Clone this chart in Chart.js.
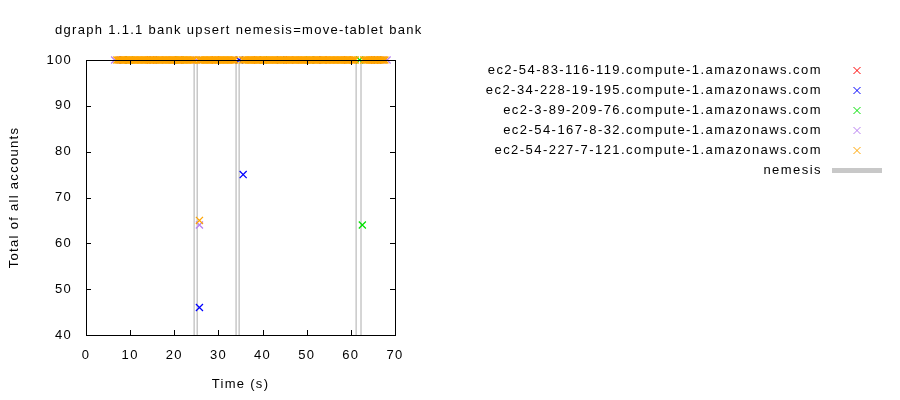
<!DOCTYPE html>
<html>
<head>
<meta charset="utf-8">
<script src="https://cdn.jsdelivr.net/npm/chart.js@4/dist/chart.umd.min.js"></script>
<style>
  html, body { margin: 0; padding: 0; background: #fff; }
  #wrap { width: 900px; height: 400px; }
</style>
</head>
<body>
<div id="wrap"><canvas id="bankChart" width="900" height="400"></canvas></div>
<script>
// chart text
const chartTitle = "dgraph 1.1.1 bank upsert nemesis=move-tablet bank";
const xTitle = "Time (s)";
const yTitle = "Total of all accounts";
const xTicks = [0, 10, 20, 30, 40, 50, 60, 70];
const yTicks = [40, 50, 60, 70, 80, 90, 100];

const nodeNames = [
    "ec2-54-83-116-119.compute-1.amazonaws.com",
    "ec2-34-228-19-195.compute-1.amazonaws.com",
    "ec2-3-89-209-76.compute-1.amazonaws.com",
    "ec2-54-167-8-32.compute-1.amazonaws.com",
    "ec2-54-227-7-121.compute-1.amazonaws.com"
];

// every correct read sees the full total
const fullTotal = 100;

// per node: times (s) of reads that saw the full total,
// then reads that saw something else
const redFullTimes = [8.2, 14.6, 21.0, 29.3, 38.8, 46.1, 53.7, 59.2, 65.4];
const redBadTimes = [];
const redBadTotals = [];

const blueFullTimes = [8.5, 15.2, 34.7, 44.1, 52.3, 66.0];
const blueBadTimes = [25.7, 35.6];
const blueBadTotals = [46, 75];

const greenFullTimes = [9.8, 21.3, 40.2, 50.7, 62.0];
const greenBadTimes = [62.6];
const greenBadTotals = [64];

const purpleFullTimes = [6.5, 18.1, 25.0, 47.5, 68.2];
const purpleBadTimes = [25.7];
const purpleBadTotals = [64];

const orangeFullTimes = [
    7.0, 7.3, 7.6, 7.9, 8.2, 8.5, 8.8, 9.1, 9.4, 9.7, 10.0, 10.3, 10.6, 10.9,
    11.2, 11.5, 11.8, 12.1, 12.4, 12.7, 13.0, 13.3, 13.6, 13.9, 14.2, 14.5, 14.8,
    15.1, 15.4, 15.7, 16.0, 16.3, 16.6, 16.9, 17.2, 17.5, 17.8, 18.1, 18.4, 18.7,
    19.0, 19.3, 19.6, 19.9, 20.2, 20.5, 20.8, 21.1, 21.4, 21.7, 22.0, 22.3, 22.6,
    22.9, 23.2, 23.5, 23.8, 24.1, 24.4,
    25.6, 25.9, 26.2, 26.5, 26.8, 27.1, 27.4, 27.7, 28.0, 28.3, 28.6, 28.9, 29.2,
    29.5, 29.8, 30.1, 30.4, 30.7, 31.0, 31.3, 31.6, 31.9, 32.2, 32.5, 32.8, 33.1,
    33.4, 33.7,
    35.5, 35.8, 36.1, 36.4, 36.7, 37.0, 37.3, 37.6, 37.9, 38.2, 38.5, 38.8, 39.1,
    39.4, 39.7, 40.0, 40.3, 40.6, 40.9, 41.2, 41.5, 41.8, 42.1, 42.4, 42.7, 43.0,
    43.3, 43.6, 43.9, 44.2, 44.5, 44.8, 45.1, 45.4, 45.7, 46.0, 46.3, 46.6, 46.9,
    47.2, 47.5, 47.8, 48.1, 48.4, 48.7, 49.0, 49.3, 49.6, 49.9, 50.2, 50.5, 50.8,
    51.1, 51.4, 51.7, 52.0, 52.3, 52.6, 52.9, 53.2, 53.5, 53.8, 54.1, 54.4, 54.7,
    55.0, 55.3, 55.6, 55.9, 56.2, 56.5, 56.8, 57.1, 57.4, 57.7, 58.0, 58.3, 58.6,
    58.9, 59.2, 59.5, 59.8, 60.1, 60.4, 60.7, 61.0,
    62.9, 63.2, 63.5, 63.8, 64.1, 64.4, 64.7, 65.0, 65.3, 65.6, 65.9, 66.2, 66.5,
    66.8, 67.1, 67.4, 67.7
];
const orangeBadTimes = [25.7];
const orangeBadTotals = [65];

// nemesis move-tablet start/stop times (s)
const nemesisTimes = [24.5, 25.2, 34.0, 34.7, 61.2, 62.3];

function toPoints(fullTimes, badTimes, badTotals) {
    const pts = fullTimes.map(t => ({ x: t, y: fullTotal }));
    badTimes.forEach((t, i) => pts.push({ x: t, y: badTotals[i] }));
    return pts;
}

function nemesisPoints() {
    const pts = [];
    nemesisTimes.forEach(t => {
        pts.push({ x: t, y: yTicks[0] });
        pts.push({ x: t, y: yTicks[yTicks.length - 1] });
        pts.push({ x: t, y: null });
    });
    return pts;
}

const FONT = "'Liberation Sans', Arial, sans-serif";
const SPACING = '1.3px';

function nodeSet(label, data, color, order) {
    return {
        type: 'scatter',
        label: label,
        data: data,
        pointStyle: 'crossRot',
        pointRadius: 5,
        pointHoverRadius: 5,
        borderWidth: 1.25,
        borderColor: color,
        backgroundColor: color,
        showLine: false,
        clip: 10,
        order: order
    };
}

// gnuplot-ish frame, inward ticks, title and right-hand key
const gnuplotLook = {
    id: 'gnuplotLook',
    beforeUpdate(chart) {
        if ('letterSpacing' in chart.ctx) chart.ctx.letterSpacing = SPACING;
    },
    beforeDraw(chart) {
        if ('letterSpacing' in chart.ctx) chart.ctx.letterSpacing = SPACING;
    },
    afterDatasetsDraw(chart) {
        const ctx = chart.ctx;
        const a = chart.chartArea;
        const xs = chart.scales.x, ys = chart.scales.y;
        const tl = 5;
        ctx.save();
        ctx.strokeStyle = '#000';
        ctx.lineWidth = 1;
        ctx.beginPath();
        xTicks.forEach(v => {
            const px = Math.round(xs.getPixelForValue(v)) + 0.5;
            ctx.moveTo(px, a.bottom); ctx.lineTo(px, a.bottom - tl);
            ctx.moveTo(px, a.top); ctx.lineTo(px, a.top + tl);
        });
        yTicks.forEach(v => {
            const py = Math.round(ys.getPixelForValue(v)) + 0.5;
            ctx.moveTo(a.left, py); ctx.lineTo(a.left + tl, py);
            ctx.moveTo(a.right, py); ctx.lineTo(a.right - tl, py);
        });
        ctx.stroke();
        ctx.strokeRect(Math.round(a.left) + 0.5, Math.round(a.top) + 0.5,
            Math.round(a.right - a.left), Math.round(a.bottom - a.top));
        ctx.restore();
    },
    afterDraw(chart) {
        const ctx = chart.ctx;
        ctx.save();
        ctx.fillStyle = '#000';
        ctx.font = '13px ' + FONT;
        ctx.textBaseline = 'middle';
        ctx.textAlign = 'left';
        ctx.fillText(chartTitle, 55, 30);

        const textRight = 822, markX = 857, rowTop = 70.5, rowGap = 20;
        if ('letterSpacing' in ctx) ctx.letterSpacing = '1.45px';
        ctx.textAlign = 'right';
        chart.data.datasets.forEach((ds, i) => {
            const y = rowTop + i * rowGap;
            ctx.fillStyle = '#000';
            ctx.fillText(ds.label, textRight, y);
            ctx.strokeStyle = ds.borderColor;
            ctx.beginPath();
            if (ds.pointStyle === 'crossRot') {
                ctx.lineWidth = 1;
                ctx.moveTo(markX - 3.5, y - 3.5); ctx.lineTo(markX + 3.5, y + 3.5);
                ctx.moveTo(markX - 3.5, y + 3.5); ctx.lineTo(markX + 3.5, y - 3.5);
            } else {
                ctx.lineWidth = 5;
                ctx.moveTo(832, y); ctx.lineTo(882, y);
            }
            ctx.stroke();
        });
        ctx.restore();
    }
};

new Chart(document.getElementById('bankChart'), {
    type: 'scatter',
    data: {
        datasets: [
            nodeSet(nodeNames[0], toPoints(redFullTimes, redBadTimes, redBadTotals), '#ff0000', 5),
            nodeSet(nodeNames[1], toPoints(blueFullTimes, blueBadTimes, blueBadTotals), '#0000ff', 4),
            nodeSet(nodeNames[2], toPoints(greenFullTimes, greenBadTimes, greenBadTotals), '#00e000', 3),
            nodeSet(nodeNames[3], toPoints(purpleFullTimes, purpleBadTimes, purpleBadTotals), '#b77ff0', 2),
            nodeSet(nodeNames[4], toPoints(orangeFullTimes, orangeBadTimes, orangeBadTotals), '#ffa500', 1),
            {
                type: 'line',
                label: 'nemesis',
                data: nemesisPoints(),
                borderColor: '#c8c8c8',
                borderWidth: 1.5,
                pointRadius: 0,
                spanGaps: false,
                fill: false,
                order: 10
            }
        ]
    },
    options: {
        responsive: false,
        animation: false,
        events: [],
        layout: { padding: { top: 60, right: 505, left: 0, bottom: 0 } },
        plugins: {
            legend: { display: false },
            title: { display: false },
            tooltip: { enabled: false }
        },
        scales: {
            x: {
                type: 'linear',
                min: xTicks[0],
                max: xTicks[xTicks.length - 1],
                grid: { display: false, drawTicks: false },
                border: { display: false },
                ticks: {
                    stepSize: 10,
                    padding: 13,
                    color: '#000',
                    font: { family: FONT, size: 13 },
                    maxRotation: 0
                },
                title: {
                    display: true,
                    text: xTitle,
                    color: '#000',
                    font: { family: FONT, size: 13 },
                    padding: { top: 0, bottom: 8 }
                },
                afterFit(scale) { scale.height = 65; }
            },
            y: {
                type: 'linear',
                min: yTicks[0],
                max: yTicks[yTicks.length - 1],
                grid: { display: false, drawTicks: false },
                border: { display: false },
                ticks: {
                    stepSize: 10,
                    padding: 14,
                    color: '#000',
                    font: { family: FONT, size: 13 }
                },
                title: {
                    display: true,
                    text: yTitle,
                    color: '#000',
                    font: { family: FONT, size: 13 },
                    padding: { top: 7, bottom: 0 }
                },
                afterFit(scale) { scale.width = 86; }
            }
        }
    },
    plugins: [gnuplotLook]
});
</script>
</body>
</html>
